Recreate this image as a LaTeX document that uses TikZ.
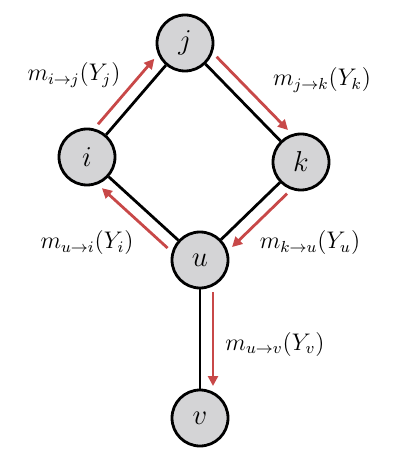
\documentclass[tikz,border=0pt]{standalone}
\usetikzlibrary{calc,arrows.meta}
\definecolor{msgred}{RGB}{200,72,72}
\definecolor{nodegray}{RGB}{212,212,214}

\begin{document}
\begin{tikzpicture}[x=0.5pt,y=-0.5pt,
  every node/.style={font=\large},
  var/.style={circle, draw, line width=1.4pt, fill=nodegray,
    minimum size=28pt, inner sep=0pt, font=\Large},
  link/.style={line width=1.4pt},
  msg/.style={draw=msgred, line width=1.4pt,
    -{Triangle[length=5pt,width=5pt]}, shorten <=16pt, shorten >=16pt}]
  \useasboundingbox (0,0) rectangle (404,459);
  % variables
  \node[var] (j) at (185,43) {$j$};
  \node[var] (i) at (87,157) {$i$};
  \node[var] (k) at (301,162) {$k$};
  \node[var] (u) at (200,260) {$u$};
  \node[var] (v) at (200,418) {$v$};
  \foreach \a/\b in {i/j,j/k,k/u,u/i,u/v}
    \draw[link] (\a) -- (\b);
  % messages
  \foreach \a/\b in {i/j,j/k,k/u,u/i,u/v}
    \draw[msg] ($(\a)!6.5pt!90:(\b)$) -- ($(\b)!6.5pt!-90:(\a)$);
  \node (mij) at (74,75) {$m_{i\to j}(Y_j)$};
  \node (mjk) at (322,80) {$m_{j\to k}(Y_k)$};
  \node (mui) at (87,243) {$m_{u\to i}(Y_i)$};
  \node (mku) at (310,243) {$m_{k\to u}(Y_u)$};
  \node (muv) at (275,344) {$m_{u\to v}(Y_v)$};
\end{tikzpicture}
\end{document}
